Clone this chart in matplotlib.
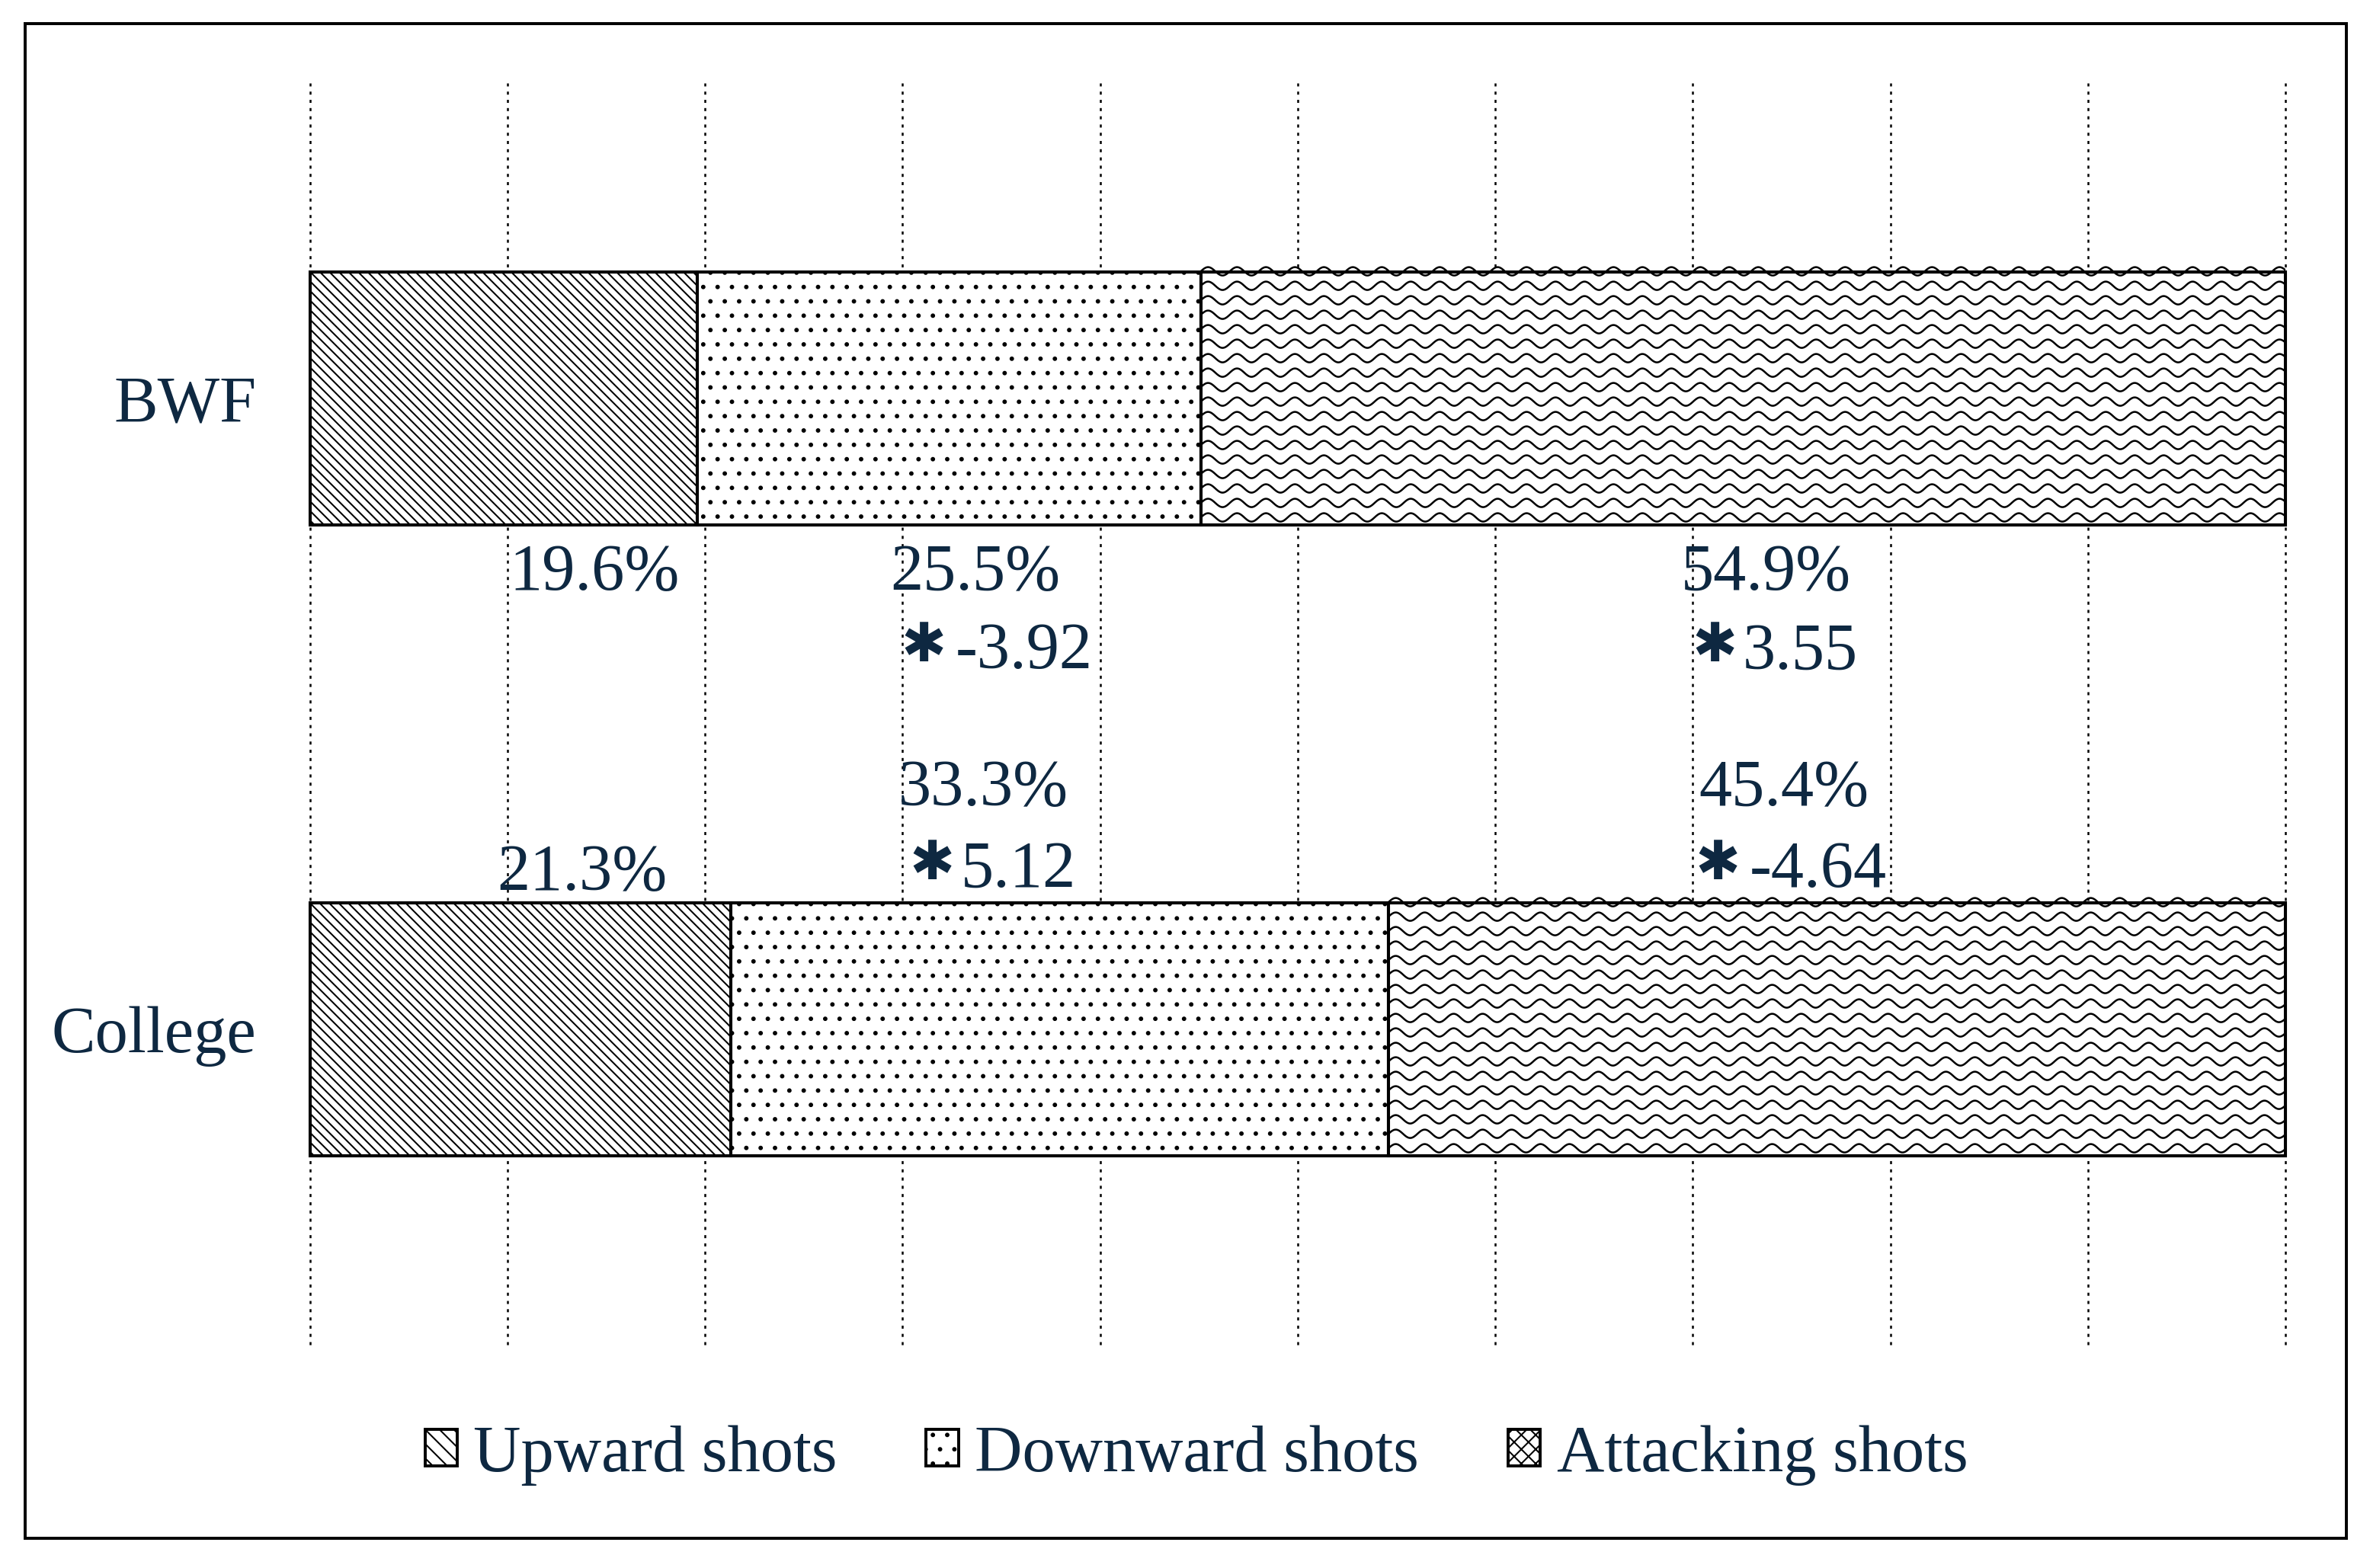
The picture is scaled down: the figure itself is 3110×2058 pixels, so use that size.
import numpy as np
import matplotlib
matplotlib.use("Agg")
import matplotlib.pyplot as plt
from matplotlib.patches import Patch, Rectangle
from matplotlib.collections import LineCollection

# ================== data ==================
groups = ["BWF", "College"]
upward = [19.6, 21.3]
downward = [25.5, 33.3]
attacking = [54.9, 45.4]
z_downward = [-3.92, 5.12]
z_attacking = [3.55, -4.64]
legend_labels = ["Upward shots", "Downward shots", "Attacking shots"]

# ================== layout ==================
W, H, DPI = 3110, 2058, 113
TXT = "#0E2841"
FS = 55
BAR_H = 0.4

# label anchors: x (in %), text baseline (y units)
UP_X = [14.4, 13.8]
UP_Y = [0.697, 0.221]
DOWN_X = [33.7, 34.1]
ATT_X = [73.7, 74.6]
PCT_Y = [0.697, 0.355]
Z_Y = [0.572, 0.226]
DOWN_AST_X = [31.06, 31.49]
DOWN_NUM_X = [32.68, 32.95]
ATT_AST_X = [71.09, 71.25]
ATT_NUM_X = [72.52, 72.87]
AST_DY = 0.035   # asterisk sits on the middle of the digits

plt.rcParams["font.family"] = ["Liberation Serif", "DejaVu Sans"]
plt.rcParams["hatch.linewidth"] = 1.3


def wave_fill(ax, bar, period=38, gap=19, amp=5.5, lw=1.6):
    # matplotlib has no wavy hatch: draw waves in pixel units, clipped to the bar
    inv = ax.transData.inverted()
    x0, y0 = bar.get_x(), bar.get_y()
    p0 = ax.transData.transform((x0, y0))
    p1 = ax.transData.transform((x0 + bar.get_width(), y0 + bar.get_height()))
    xs = np.arange(p0[0], p1[0] + 1, 1.0)
    segs = []
    for yr in np.arange(p0[1] + gap / 2, p1[1] + gap, gap):
        ys = yr + amp * np.sin(2 * np.pi * (xs - p0[0]) / period)
        segs.append(inv.transform(np.column_stack([xs, ys])))
    lc = LineCollection(segs, colors="black", linewidths=lw,
                        zorder=bar.get_zorder() + 0.1)
    lc.set_clip_path(bar)
    ax.add_collection(lc, autolim=False)


def z_label(ax, ast_x, num_x, y, val):
    ax.text(ast_x, y + AST_DY, "\u2731", ha="center", va="center",
            fontsize=45, color=TXT, family=["DejaVu Sans"])
    ax.text(num_x, y, f"{val:g}", ha="left", va="baseline",
            fontsize=FS, color=TXT)


fig = plt.figure(figsize=(W / DPI, H / DPI), dpi=DPI)
ax = fig.add_axes([406.6 / W, 1 - 1765 / H, (2999 - 406.6) / W, (1765 - 109) / H])
ax.set_xlim(0, 100)
ax.set_ylim(-0.5, 1.5)

ypos = np.arange(len(groups))[::-1]
left_down = np.array(upward)
left_att = left_down + np.array(downward)

ax.barh(ypos, upward, height=BAR_H, color="white", edgecolor="black",
        hatch="\\\\\\", linewidth=2.6, zorder=2, clip_on=False)
ax.barh(ypos, downward, left=left_down, height=BAR_H, color="white",
        edgecolor="black", hatch=".", linewidth=2.6, zorder=2, clip_on=False)
att = ax.barh(ypos, attacking, left=left_att, height=BAR_H, color="white",
              edgecolor="black", linewidth=2.6, zorder=2, clip_on=False)
for p in att.patches:
    wave_fill(ax, p)

# ===== labels =====
for i, y in enumerate(ypos):
    ax.text(UP_X[i], UP_Y[i], f"{upward[i]:.1f}%", ha="center", va="baseline",
            fontsize=FS, color=TXT)
    ax.text(DOWN_X[i], PCT_Y[i], f"{downward[i]:.1f}%", ha="center", va="baseline",
            fontsize=FS, color=TXT)
    ax.text(ATT_X[i], PCT_Y[i], f"{attacking[i]:.1f}%", ha="center", va="baseline",
            fontsize=FS, color=TXT)
    z_label(ax, DOWN_AST_X[i], DOWN_NUM_X[i], Z_Y[i], z_downward[i])
    z_label(ax, ATT_AST_X[i], ATT_NUM_X[i], Z_Y[i], z_attacking[i])

# ===== axes styling =====
ax.set_xticks(np.arange(0, 101, 10))
ax.set_xticklabels([])
ax.set_yticks(ypos, groups)
ax.tick_params(axis="x", length=0)
ax.tick_params(axis="y", length=0, pad=44.6, labelsize=FS, labelcolor=TXT)
for s in ax.spines.values():
    s.set_visible(False)
ax.set_axisbelow(True)
ax.grid(axis="x", color="black", linestyle=(0, (1.6, 2.7)), linewidth=1.6)
for gl in ax.get_xgridlines():
    gl.set_clip_on(False)

# ===== legend =====
handles = [
    Patch(facecolor="white", edgecolor="black", hatch="\\\\", linewidth=2.5),
    Patch(facecolor="white", edgecolor="black", hatch=".", linewidth=2.5),
    Patch(facecolor="white", edgecolor="black", hatch="xx", linewidth=2.5),
]
leg = fig.legend(handles, legend_labels, loc="center", ncol=3, frameon=False,
                 bbox_to_anchor=(1570 / W, 1 - 1910 / H), fontsize=FS,
                 handlelength=0.49, handleheight=0.49, handletextpad=0.25,
                 columnspacing=1.35)
for t in leg.get_texts():
    t.set_color(TXT)

# outer frame
fig.add_artist(Rectangle((33 / W, 1 - 2019 / H), (3079 - 33) / W, (2019 - 31) / H,
                         transform=fig.transFigure, fill=False,
                         edgecolor="black", linewidth=2.5))

fig.savefig("out.png", dpi=DPI)
